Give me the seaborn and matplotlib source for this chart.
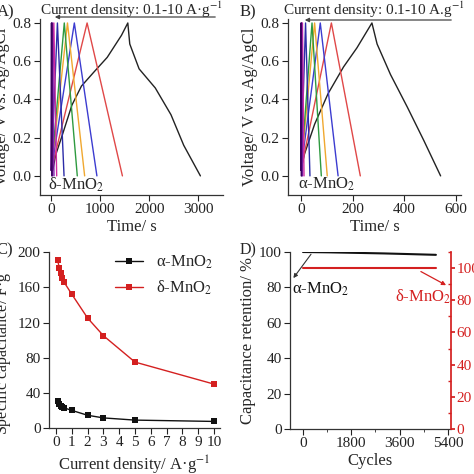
import numpy as np
import pandas as pd
import matplotlib
matplotlib.use("Agg")
import matplotlib.pyplot as plt
from matplotlib.ticker import AutoMinorLocator, MultipleLocator
import seaborn as sns

sns.set_theme(style="ticks")
plt.rcParams['font.family'] = ['Liberation Serif', 'DejaVu Serif']
plt.rcParams['mathtext.fontset'] = 'stix'

# current densities (A/g)
density = [0.1, 0.2, 0.3, 0.4, 0.5, 1, 2, 3, 5, 10]
gcd_colors = ["#222222", "#e04848", "#3c3cd0", "#f0a830", "#2e9a40",
              "#2c2ca8", "#d02aa0", "#8020b0", "#5a1080", "#3a0060"]

# delta-MnO2, 0.1 A/g curve (black)
delta_t01 = [30, 90, 220, 420, 615, 875, 1140, 1430, 1560, 1600, 1790, 2120, 2440, 2700, 3040]
delta_v01 = [0.03, 0.11, 0.21, 0.37, 0.47, 0.545, 0.62, 0.735, 0.8, 0.69, 0.56, 0.46, 0.32, 0.16, 0.0]
# other densities: time at peak, time at end
delta_peak = [730, 470, 330, 265, 125, 52, 25, 10, 4]
delta_end = [1450, 930, 680, 530, 260, 110, 55, 24, 9]

# alpha-MnO2, panel B
alpha_t01 = [3, 14, 53, 105, 165, 217, 275, 295, 347, 412, 476, 541]
alpha_v01 = [0.05, 0.115, 0.27, 0.43, 0.57, 0.67, 0.8, 0.69, 0.53, 0.36, 0.185, 0.0]
alpha_peak = [118, 75, 53, 43, 18, 6, 3, 1.5, 0.7]
alpha_end = [230, 144, 102, 79, 35, 12, 6, 3, 1.4]

# panel C
cap_alpha = [31, 27, 25, 24, 23, 20, 14.5, 11.5, 9, 7.5]
cap_delta = [191, 182, 176, 171, 166, 152, 125, 105, 75, 50]

# panel D
cycles = [0, 1000, 2000, 3000, 4000, 4950]
ret_alpha = [100, 99.8, 99.5, 99.2, 98.8, 98.4]
ret_delta = [100, 100, 100, 100, 100, 100]

RED = "#d42020"
fig = plt.figure(figsize=(4.74, 4.74), dpi=100)
axA = fig.add_axes([0.0844, 0.5886, 0.386, 0.371])
axB = fig.add_axes([0.6076, 0.5886, 0.365, 0.371])
axC = fig.add_axes([0.1034, 0.097, 0.361, 0.371])
axD = fig.add_axes([290 / 474, 1 - 429 / 474, 161 / 474, 177 / 474])

TICK = 11
LAB = 12


def style(ax):
    sns.despine(ax=ax)
    ax.tick_params(direction="out", length=4, width=0.8, labelsize=TICK, pad=2,
                   colors="#222222")
    ax.tick_params(which="minor", direction="out", length=2, width=0.6)
    for s in ("left", "bottom"):
        ax.spines[s].set_color("#333333")
        ax.spines[s].set_linewidth(0.9)


def gcd(ax, t01, v01, peak, end):
    sns.lineplot(x=t01, y=v01, color=gcd_colors[0], lw=1.0, ax=ax, sort=False)
    for i in range(len(peak)):
        sns.lineplot(x=[0, peak[i], end[i]], y=[0.03, 0.8, 0.0],
                     color=gcd_colors[i + 1], lw=1.0, ax=ax, sort=False)


# ---- A
gcd(axA, delta_t01, delta_v01, delta_peak, delta_end)
axA.set_xlim(-230, 3500)
axA.set_ylim(-0.1, 0.82)
axA.xaxis.set_major_locator(MultipleLocator(1000))
axA.yaxis.set_major_locator(MultipleLocator(0.2))
axA.set_xlabel("Time/ s", fontsize=LAB, labelpad=2)
axA.set_ylabel("Voltage/ V vs. Ag/AgCl", fontsize=LAB, labelpad=2)
axA.text(-60, -0.045, r"δ-MnO$_2$", fontsize=12, ha="left", va="center")
style(axA)

# ---- B
gcd(axB, alpha_t01, alpha_v01, alpha_peak, alpha_end)
axB.set_xlim(-50, 620)
axB.set_ylim(-0.1, 0.82)
axB.xaxis.set_major_locator(MultipleLocator(200))
axB.yaxis.set_major_locator(MultipleLocator(0.2))
axB.set_xlabel("Time/ s", fontsize=LAB, labelpad=2)
axB.set_ylabel("Voltage/ V vs. Ag/AgCl", fontsize=LAB, labelpad=2)
axB.text(-12, -0.045, r"α-MnO$_2$", fontsize=12, ha="left", va="center")
style(axB)

# arrows over A and B
fig.text(132 / 474, 1 - 10 / 474, r"Current density: 0.1-10 A·g$^{-1}$",
         fontsize=11, ha="center", va="center")
fig.patches.append(matplotlib.patches.FancyArrowPatch(
    (218 / 474, 1 - 17 / 474), (52 / 474, 1 - 17 / 474), transform=fig.transFigure,
    arrowstyle="-|>", mutation_scale=6, lw=0.9, color="#444444"))
fig.text(374 / 474, 1 - 10 / 474, r"Current density: 0.1-10 A.g$^{-1}$",
         fontsize=11, ha="center", va="center")
fig.patches.append(matplotlib.patches.FancyArrowPatch(
    (454 / 474, 1 - 20 / 474), (302 / 474, 1 - 20 / 474), transform=fig.transFigure,
    arrowstyle="-|>", mutation_scale=6, lw=0.9, color="#444444"))

# ---- C
dfC = pd.DataFrame({
    "density": density * 2,
    "cap": cap_alpha + cap_delta,
    "phase": [r"α-MnO$_2$"] * len(density) + [r"δ-MnO$_2$"] * len(density),
})
sns.lineplot(data=dfC, x="density", y="cap", hue="phase",
             palette=["#111111", RED], marker="s", markersize=4,
             markeredgewidth=0, lw=1.0, ax=axC)
axC.set_xlim(-0.45, 10.4)
axC.set_ylim(0, 200)
axC.xaxis.set_major_locator(MultipleLocator(1))
axC.yaxis.set_major_locator(MultipleLocator(40))
axC.set_xlabel(r"Current density/ A·g$^{-1}$", fontsize=LAB, labelpad=3)
axC.set_ylabel(r"Specific capacitance/ F·g$^{-1}$", fontsize=11.5, labelpad=2)
axC.yaxis.set_label_coords(-0.205, 0.46)
leg = axC.legend(loc="upper right", bbox_to_anchor=(1.0, 1.03), frameon=False,
                 fontsize=12, handlelength=1.7, borderaxespad=0.0, labelspacing=0.45)
style(axC)

# ---- D
sns.lineplot(x=cycles, y=ret_alpha, color="#111111", lw=1.5, ax=axD)
axD.set_xlim(-484, 5512)
axD.set_ylim(0, 100)
axD.xaxis.set_major_locator(MultipleLocator(1800))
axD.xaxis.set_minor_locator(AutoMinorLocator(2))
axD.yaxis.set_major_locator(MultipleLocator(20))
axD.set_xlabel("Cycles", fontsize=LAB, labelpad=2)
axD.set_ylabel("Capacitance retention/ %", fontsize=LAB, labelpad=2)
style(axD)
axR = axD.twinx()
sns.lineplot(x=cycles, y=ret_delta, color=RED, lw=1.5, ax=axR)
axR.set_ylim(0, 110)
axR.yaxis.set_major_locator(MultipleLocator(20))
axR.yaxis.set_minor_locator(AutoMinorLocator(2))
axR.set_ylabel("")
for s in ("top", "left", "bottom"):
    axR.spines[s].set_visible(False)
axR.spines["right"].set_color(RED)
axR.tick_params(axis="y", colors=RED, labelsize=TICK, direction="out", length=3, pad=1)
axR.tick_params(axis="y", which="minor", colors=RED, direction="in", length=2)
axD.text(-420, 79, r"α-MnO$_2$", fontsize=12, ha="left", va="center", color="#111111")
axD.annotate("", xy=(-420, 84), xytext=(360, 100),
             arrowprops=dict(arrowstyle="-|>", mutation_scale=6, lw=0.8, color="#333333"))
axD.text(5512, 74.5, r"δ-MnO$_2$", fontsize=12, ha="right", va="center", color=RED)
axD.annotate("", xy=(5420, 80.5), xytext=(4300, 89.7),
             arrowprops=dict(arrowstyle="-|>", mutation_scale=6, lw=0.9, color=RED))

# panel letters
fig.text(-3 / 474, 1 - 12 / 474, "A)", fontsize=12, ha="left", va="center")
fig.text(240 / 474, 1 - 12 / 474, "B)", fontsize=12, ha="left", va="center")
fig.text(-4 / 474, 1 - 250 / 474, "C)", fontsize=12, ha="left", va="center")
fig.text(240 / 474, 1 - 250 / 474, "D)", fontsize=11.5, ha="left", va="center")

fig.savefig("out.png", dpi=100)
